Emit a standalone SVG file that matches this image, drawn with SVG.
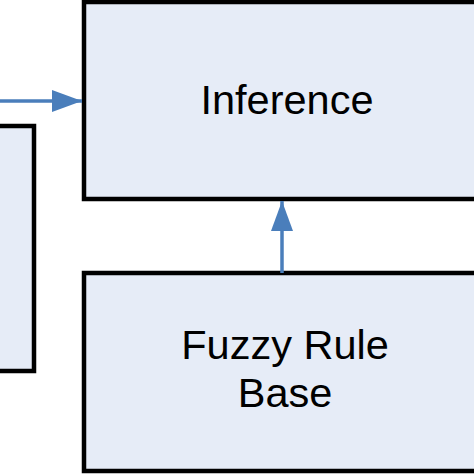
<svg xmlns="http://www.w3.org/2000/svg" width="474" height="474" viewBox="0 0 474 474">
<style>
.box{fill:#E6ECF7;stroke:#000;stroke-width:4.5}
.lbl{font-family:"Liberation Sans",Arial,sans-serif;font-size:41.5px;fill:#000;text-anchor:middle}
.conn{stroke:#4A7EBB;stroke-width:3.5;fill:none}
</style>
<defs>
<marker id="ah" markerUnits="userSpaceOnUse" markerWidth="30" markerHeight="22" refX="30" refY="11" orient="auto">
<path d="M0,0 L30,11 L0,22 Z" fill="#4A7EBB"/>
</marker>
</defs>
<rect width="474" height="474" fill="#fff"/>
<g id="left-node"><rect class="box" x="-20" y="126" width="54" height="245"/></g>
<g id="inference"><rect class="box" x="84" y="2" width="402" height="197"/><text class="lbl" x="287" y="114">Inference</text></g>
<g id="rule-base"><rect class="box" x="84" y="273" width="402" height="198"/><text class="lbl" x="285" y="359">Fuzzy Rule</text><text class="lbl" x="285" y="407">Base</text></g>
<g id="connectors">
<line class="conn" x1="-2" y1="101" x2="82" y2="101" marker-end="url(#ah)"/>
<line class="conn" x1="282" y1="273" x2="282" y2="201" marker-end="url(#ah)"/>
</g>
</svg>
